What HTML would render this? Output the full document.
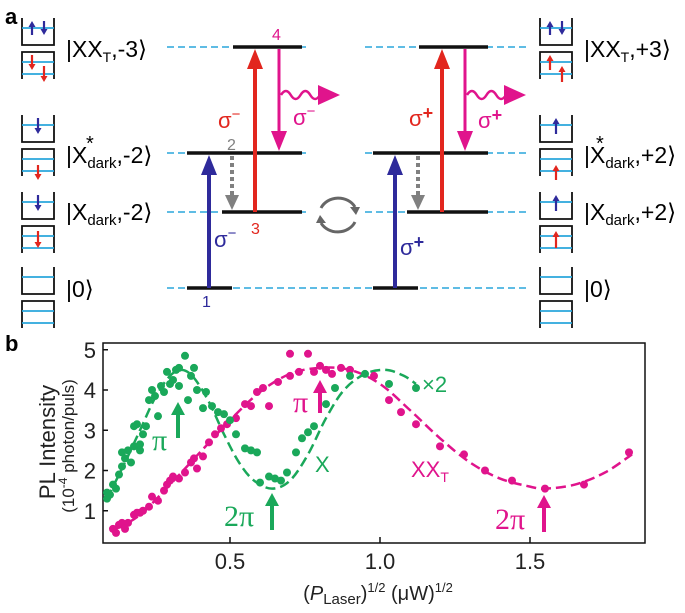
<!DOCTYPE html>
<html><head><meta charset="utf-8"><style>
body{margin:0;background:#fff}
svg{display:block;font-family:"Liberation Sans",sans-serif}
</style></head><body>
<svg id="fig" width="685" height="613" viewBox="0 0 685 613" xmlns="http://www.w3.org/2000/svg">
<g id="panelA"></g>
<g id="panelB"></g>
</svg>
<script>
// ---------- chart data ----------
const greenX=[0.09,0.09,0.1,0.11,0.12,0.13,0.14,0.14,0.15,0.16,0.17,0.18,0.18,0.19,0.2,0.2,0.21,0.22,0.23,0.24,0.25,0.26,0.27,0.28,0.29,0.3,0.31,0.32,0.33,0.33,0.35,0.36,0.37,0.38,0.39,0.41,0.42,0.44,0.46,0.48,0.5,0.52,0.55,0.57,0.59,0.6,0.63,0.65,0.67,0.69,0.72,0.74,0.76,0.78,0.82,0.85,0.9,0.95,1.03,1.12];
const greenY=[1.3,1.45,1.4,1.65,1.55,1.9,2.1,2.45,2.3,2.5,2.2,2.6,3.1,3.15,2.65,2.5,2.9,3.1,3.75,4.0,3.85,3.35,4.1,3.95,4.45,4.15,4.25,4.5,4.55,4.1,4.85,3.75,4.35,4.55,4.0,3.55,3.95,3.6,3.45,3.4,3.25,2.9,2.55,2.5,2.45,1.7,1.85,1.8,1.75,1.95,2.45,2.8,2.95,3.1,3.65,4.05,4.35,4.4,4.15,4.05];
const pinkX=[0.11,0.12,0.13,0.14,0.15,0.16,0.18,0.19,0.2,0.21,0.23,0.24,0.26,0.28,0.29,0.3,0.31,0.33,0.35,0.37,0.38,0.39,0.41,0.43,0.45,0.47,0.49,0.52,0.55,0.57,0.59,0.61,0.63,0.66,0.7,0.7,0.73,0.76,0.78,0.8,0.82,0.84,0.87,0.9,0.98,1.03,1.07,1.12,1.2,1.28,1.35,1.44,1.55,1.68,1.83];
const pinkY=[0.55,0.45,0.65,0.7,0.55,0.7,0.9,0.95,0.95,1.0,1.1,1.35,1.25,1.5,1.65,1.75,1.85,1.8,1.95,2.2,2.3,2.05,2.35,2.7,2.9,3.05,3.15,3.3,3.65,3.6,3.95,4.05,3.6,4.2,4.35,4.9,4.45,4.9,4.45,4.6,4.5,4.4,4.55,4.5,4.35,3.75,3.45,3.15,2.6,2.4,2.0,1.75,1.55,1.65,2.45];
const greenFitX=[0.09,0.15,0.2,0.25,0.3,0.34,0.38,0.43,0.48,0.53,0.58,0.64,0.7,0.76,0.82,0.88,0.95,1.02,1.08,1.12];
const greenFitY=[1.3,2.2,3.0,3.8,4.35,4.5,4.3,3.7,2.9,2.2,1.75,1.55,1.75,2.4,3.3,4.0,4.4,4.5,4.35,4.15];
const pinkFitX=[0.12,0.2,0.3,0.4,0.5,0.6,0.7,0.8,0.9,1.0,1.1,1.2,1.3,1.4,1.5,1.55,1.65,1.75,1.84];
const pinkFitY=[0.55,0.9,1.65,2.45,3.25,3.95,4.4,4.55,4.5,4.15,3.5,2.8,2.2,1.8,1.6,1.55,1.65,1.95,2.4];
const xTicks=[0.5,1.0,1.5];
const xTickLabels=["0.5","1.0","1.5"];
const yTicks=[1,2,3,4,5];
const yTickLabels=["1","2","3","4","5"];

const NS="http://www.w3.org/2000/svg";
function mk(tag,attrs,parent,text){const e=document.createElementNS(NS,tag);for(const k in attrs)e.setAttribute(k,attrs[k]);if(text!==undefined)e.textContent=text;parent.appendChild(e);return e;}

// ---------- panel a ----------
const A=document.getElementById('panelA');
const CY="#2aa6dc",BL="#2e2a9b",RD="#e2261e",PK="#e0148c",GR="#808080";
function dash(x1,x2,y,name){const e=mk('line',{x1:x1,x2:x2,y1:y,y2:y,stroke:CY,'stroke-width':1.5,'stroke-dasharray':'7,4'},A);}
function bar(x1,x2,y,name){const e=mk('line',{x1:x1,x2:x2,y1:y,y2:y,stroke:'#111','stroke-width':3.5},A);}
function arrow(x,y1,y2,col,name,w){const g=mk('g',{},A);
 const dir=y2<y1?-1:1;const hl=20;mk('line',{x1:x,x2:x,y1:y1,y2:y2-dir*hl,stroke:col,'stroke-width':w||4},g);
 mk('path',{d:`M${x-8},${y2-dir*hl} L${x+8},${y2-dir*hl} L${x},${y2}z`,fill:col},g);}
dash(167,310,47,'level-xx-left-dash');dash(167,310,153,'level-xstar-left-dash');dash(167,310,212,'level-xdark-left-dash');
dash(365,530,47,'level-xx-right-dash');dash(365,530,153,'level-xstar-right-dash');dash(365,530,212,'level-xdark-right-dash');
dash(167,530,288,'level-ground-dash');
bar(233,302,47,'bar-xx-left');bar(187,302,153,'bar-xstar-left');bar(222,302,212,'bar-xdark-left');bar(187,232,288,'bar-ground-left');
bar(419,488,47,'bar-xx-right');bar(373,488,153,'bar-xstar-right');bar(407,488,212,'bar-xdark-right');bar(373,418,288,'bar-ground-right');
arrow(209,288,155,BL,'arrow-excite-left');arrow(255,212,49,RD,'arrow-red-left');arrow(279,49,151,PK,'arrow-emit-left',3);
arrow(395,288,155,BL,'arrow-excite-right');arrow(442,212,49,RD,'arrow-red-right');arrow(465,49,151,PK,'arrow-emit-right',3);
[[232],[418]].forEach((p,i)=>{const g=mk('g',{},A);
 mk('line',{x1:p[0],x2:p[0],y1:156,y2:196,stroke:GR,'stroke-width':4,'stroke-dasharray':'4,3'},g);
 mk('path',{d:`M${p[0]-7},195 L${p[0]+7},195 L${p[0]},210z`,fill:GR},g);});
[[281,340],[467,526]].forEach((p,i)=>{const g=mk('g',{},A);
 let d=`M${p[0]},95`;const x0=p[0],len=p[1]-x0-20;for(let k=1;k<=4;k++){d+=` Q${x0+len*(k-0.5)/4},${k%2?87:103} ${x0+len*k/4},95`;}
 mk('path',{d:d,fill:'none',stroke:PK,'stroke-width':2.5},g);
 mk('path',{d:`M${p[1]-22},85 L${p[1]},95 L${p[1]-22},105z`,fill:PK},g);});
const cyc=mk('g',{},A);
mk('path',{d:'M321,208 A19,17 0 0 1 355,207',fill:'none',stroke:'#666','stroke-width':3},cyc);
mk('path',{d:'M355,222 A19,17 0 0 1 321,223',fill:'none',stroke:'#666','stroke-width':3},cyc);
mk('path',{d:'M350,207 L360,207 L356,215z',fill:'#666'},cyc);
mk('path',{d:'M316,223 L326,223 L320,215z',fill:'#666'},cyc);
function txt(x,y,s,attrs,name,html){const e=mk('text',Object.assign({x:x,y:y},attrs),A);if(html)e.innerHTML=html;else e.textContent=s;return e;}
txt(5,24,'a',{'font-size':22,'font-weight':'bold'},'panel-a-label');
txt(272,40,'4',{'font-size':16,fill:PK},'label-4');txt(227,150,'2',{'font-size':16,fill:GR},'label-2');
txt(251,234,'3',{'font-size':16,fill:RD},'label-3');txt(202,307,'1',{'font-size':16,fill:BL},'label-1');
txt(218,128,'',{'font-size':22,fill:RD},'sigma-minus-red-left',"σ<tspan font-size='15' dy='-9'>−</tspan>");
txt(293,125,'',{'font-size':22,fill:PK},'sigma-minus-pink-left',"σ<tspan font-size='15' dy='-9'>−</tspan>");
txt(214,247,'',{'font-size':22,fill:BL},'sigma-minus-blue-left',"σ<tspan font-size='15' dy='-9'>−</tspan>");
txt(409,126,'',{'font-size':22,fill:RD},'sigma-plus-red-right',"σ<tspan font-size='18' font-weight='bold' dy='-7'>+</tspan>");
txt(478,128,'',{'font-size':22,fill:PK},'sigma-plus-pink-right',"σ<tspan font-size='18' font-weight='bold' dy='-7'>+</tspan>");
txt(400,255,'',{'font-size':22,fill:BL},'sigma-plus-blue-right',"σ<tspan font-size='18' font-weight='bold' dy='-7'>+</tspan>");
const lab=[[57,'|XX<tspan font-size="14" dy="5">T</tspan><tspan dy="-5">,-3⟩</tspan>','|XX<tspan font-size="14" dy="5">T</tspan><tspan dy="-5">,+3⟩</tspan>','xx'],
[163,'|X<tspan font-size="15" dy="5">dark</tspan><tspan dy="-5">,-2⟩</tspan>','|X<tspan font-size="15" dy="5">dark</tspan><tspan dy="-5">,+2⟩</tspan>','xstar'],
[220,'|X<tspan font-size="15" dy="5">dark</tspan><tspan dy="-5">,-2⟩</tspan>','|X<tspan font-size="15" dy="5">dark</tspan><tspan dy="-5">,+2⟩</tspan>','xdark'],
[297,'|0⟩','|0⟩','ground']];
lab.forEach(l=>{txt(66,l[0],'',{'font-size':23},'state-label-'+l[3]+'-left',l[1]);txt(584,l[0],'',{'font-size':23},'state-label-'+l[3]+'-right',l[2]);});
txt(86,150,'*',{'font-size':20},'star-left');txt(596,150,'*',{'font-size':20},'star-right');
function smallArrow(g,x,y1,y2,col){const dir=y2<y1?-1:1;mk('line',{x1:x,x2:x,y1:y1,y2:y2-dir*5,stroke:col,'stroke-width':2.2},g);mk('path',{d:`M${x-3.5},${y2-dir*6} L${x+3.5},${y2-dir*6} L${x},${y2}z`,fill:col},g);}
function icons(x,tops,name){const g=mk('g',{fill:'none'},A);
 const y0=tops;
 mk('path',{d:`M${x},${y0} V${y0+27} H${x+32} V${y0}`,stroke:'#111','stroke-width':1.8,fill:'none'},g);
 mk('line',{x1:x,x2:x+32,y1:y0+10,y2:y0+10,stroke:CY,'stroke-width':1.8},g);
 const y1=y0+34;
 mk('path',{d:`M${x},${y1+27} V${y1} H${x+32} V${y1+27}`,stroke:'#111','stroke-width':1.8,fill:'none'},g);
 mk('line',{x1:x,x2:x+32,y1:y1+10,y2:y1+10,stroke:CY,'stroke-width':1.8},g);
 mk('line',{x1:x,x2:x+32,y1:y1+22,y2:y1+22,stroke:CY,'stroke-width':1.8},g);
 return [g,y0,y1];}
function side(x,sgn,s){
 let r=icons(x,18,'icon-xx-'+s);smallArrow(r[0],x+10,r[1]+17,r[1]+3,BL);smallArrow(r[0],x+22,r[1]+3,r[1]+17,BL);
 if(sgn<0){smallArrow(r[0],x+10,r[2]+3,r[2]+18,RD);smallArrow(r[0],x+22,r[2]+14,r[2]+30,RD);}else{smallArrow(r[0],x+10,r[2]+18,r[2]+3,RD);smallArrow(r[0],x+22,r[2]+30,r[2]+14,RD);}
 r=icons(x,115,'icon-xstar-'+s);smallArrow(r[0],x+16,sgn<0?r[1]+3:r[1]+19,sgn<0?r[1]+19:r[1]+3,BL);smallArrow(r[0],x+16,sgn<0?r[2]+16:r[2]+31,sgn<0?r[2]+31:r[2]+16,RD);
 r=icons(x,192,'icon-xdark-'+s);smallArrow(r[0],x+16,sgn<0?r[1]+3:r[1]+19,sgn<0?r[1]+19:r[1]+3,BL);smallArrow(r[0],x+16,sgn<0?r[2]+5:r[2]+22,sgn<0?r[2]+22:r[2]+5,RD);
 icons(x,267,'icon-ground-'+s);}
side(22,-1,'left');side(540,1,'right');

// ---------- panel b ----------
const B=document.getElementById('panelB');
const L=103,R=645,T=343,Bt=543;
const xs=v=>80+v*300, ys=v=>551-v*40.25;
mk('text',{x:5,y:351,'font-size':22,'font-weight':'bold'},B,'b');
const frame=mk('rect',{x:L,y:T,width:R-L,height:Bt-T,fill:'none',stroke:'#111','stroke-width':1.5},B);

xTicks.forEach((v,i)=>{mk('line',{x1:xs(v),x2:xs(v),y1:Bt,y2:Bt-6,stroke:'#111','stroke-width':1.5},B);
 const t=mk('text',{x:xs(v),y:569,'font-size':22,'text-anchor':'middle',fill:'#222'},B,xTickLabels[i]);
 });
yTicks.forEach((v,i)=>{mk('line',{x1:L,x2:L+5,y1:ys(v),y2:ys(v),stroke:'#111','stroke-width':1.5},B);
 const t=mk('text',{x:L-7,y:ys(v)+8,'font-size':22,'text-anchor':'end',fill:'#222'},B,yTickLabels[i]);
 });
const xt=mk('text',{x:378,y:600,'font-size':20,'text-anchor':'middle',fill:'#222'},B);
xt.innerHTML='(<tspan font-style="italic">P</tspan><tspan font-size="15" dy="4">Laser</tspan><tspan dy="-4">)</tspan><tspan font-size="13" dy="-8">1/2</tspan><tspan dy="8"> (μW)</tspan><tspan font-size="13" dy="-8">1/2</tspan>';

const yt=mk('text',{x:0,y:0,'font-size':22,'text-anchor':'middle',fill:'#222',transform:'translate(55,442) rotate(-90)'},B,'PL Intensity');

const yt2=mk('text',{x:0,y:0,'font-size':17,'text-anchor':'middle',fill:'#222',transform:'translate(74,446) rotate(-90)'},B);
yt2.innerHTML='(10<tspan font-size="12" dy="-7">-4</tspan><tspan dy="7"> photon/puls)</tspan>';

function smooth(X,Y){const p=X.map((x,i)=>[xs(x),ys(Y[i])]);let d=`M${p[0][0]},${p[0][1]}`;
 for(let i=0;i<p.length-1;i++){const p0=p[i-1]||p[i],p1=p[i],p2=p[i+1],p3=p[i+2]||p2;
  d+=` C${p1[0]+(p2[0]-p0[0])/6},${p1[1]+(p2[1]-p0[1])/6} ${p2[0]-(p3[0]-p1[0])/6},${p2[1]-(p3[1]-p1[1])/6} ${p2[0]},${p2[1]}`;}return d;}
const G="#1aa85a",P="#e0148c";
const pf=mk('path',{d:smooth(pinkFitX,pinkFitY),fill:'none',stroke:P,'stroke-width':2.5,'stroke-dasharray':'10,5'},B);

const gf=mk('path',{d:smooth(greenFitX,greenFitY),fill:'none',stroke:G,'stroke-width':2.5,'stroke-dasharray':'10,5'},B);

pinkX.forEach((x,i)=>{const c=mk('circle',{cx:xs(x),cy:ys(pinkY[i]),r:4,fill:P},B);
 
 });
greenX.forEach((x,i)=>{const c=mk('circle',{cx:xs(x),cy:ys(greenY[i]),r:4,fill:G},B);
 
 });
function bt(x,y,s,col,fs,name){const e=mk('text',{x:x,y:y,'font-size':fs,fill:col,'font-family':'Liberation Serif,serif'},B,s);}
function upArrow(x,y1,y2,col,name){const g=mk('g',{},B);
 mk('line',{x1:x,x2:x,y1:y1,y2:y2+10,stroke:col,'stroke-width':4},g);mk('path',{d:`M${x-7},${y2+13} L${x+7},${y2+13} L${x},${y2}z`,fill:col},g);}
bt(152,450,'π',G,30,'pi-label-x');upArrow(178,438,402,G,'pi-arrow-x');
bt(224,526,'2π',G,30,'two-pi-label-x');upArrow(272,530,493,G,'two-pi-arrow-x');
bt(293,412,'π',P,30,'pi-label-xxt');upArrow(320,413,380,P,'pi-arrow-xxt');
bt(495,529,'2π',P,30,'two-pi-label-xxt');upArrow(544,532,495,P,'two-pi-arrow-xxt');
const l1=mk('text',{x:422,y:392,'font-size':22,fill:G},B,'×2');
const l2=mk('text',{x:315,y:472,'font-size':22,fill:G},B,'X');
const l3=mk('text',{x:411,y:477,'font-size':22,fill:P},B);l3.innerHTML='XX<tspan font-size="14" dy="5">T</tspan>';
</script>
</body></html>
